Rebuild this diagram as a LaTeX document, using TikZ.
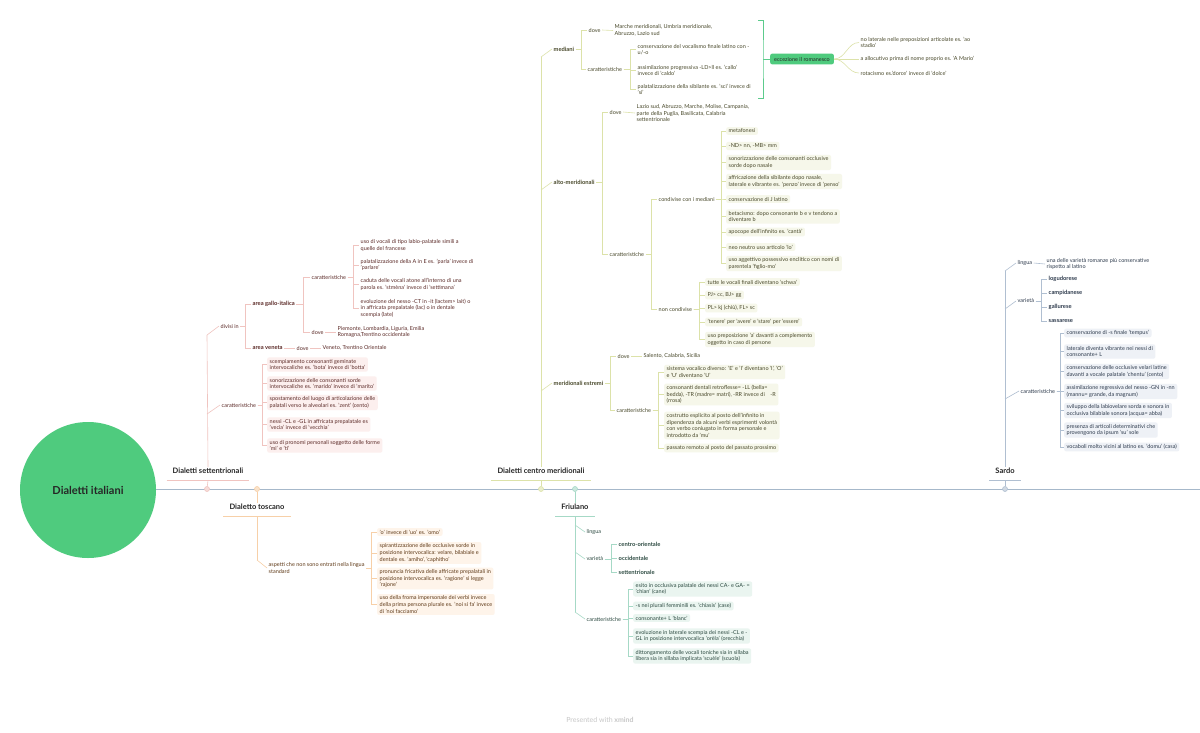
\documentclass[tikz,border=0pt]{standalone}
\usepackage{fontspec}
\setmainfont{Lato}
\usetikzlibrary{calc}

\definecolor{trunkln}{HTML}{A6B8CA}
\definecolor{rootgreen}{HTML}{4FCB7E}
\definecolor{stln}{HTML}{F0C4C0}
\definecolor{sttx}{HTML}{5C2B28}
\definecolor{stbg}{HTML}{FCEFEE}
\definecolor{toln}{HTML}{F7D0A8}
\definecolor{totx}{HTML}{5F3A18}
\definecolor{tobg}{HTML}{FEF4EA}
\definecolor{cmln}{HTML}{DCE2A9}
\definecolor{cmtx}{HTML}{48482A}
\definecolor{cmbg}{HTML}{F6F7EA}
\definecolor{frln}{HTML}{A6D9C6}
\definecolor{frtx}{HTML}{2C4A41}
\definecolor{frbg}{HTML}{EAF5F0}
\definecolor{sdln}{HTML}{B0BFD1}
\definecolor{sdtx}{HTML}{2D3A4C}
\definecolor{sdbg}{HTML}{EEF1F6}
\definecolor{sumln}{HTML}{5CCB8C}

\tikzset{
  txt/.style={anchor=west,align=left,inner sep=1.5pt,font=\fontsize{5.5}{6.6}\selectfont},
  sub/.style={txt,font=\fontsize{5.8}{6.6}\selectfont\bfseries},
  card/.style={txt,rounded corners=2pt,inner xsep=2.5pt,inner ysep=1.8pt},
  head/.style={inner xsep=6pt,inner ysep=1pt,text height=5.4pt,text depth=0pt,
    font=\fontsize{7.5}{9}\selectfont\bfseries,text=black!85},
  dot/.style={circle,inner sep=0pt,minimum size=5pt,line width=0.6pt},
  brk/.style={to path={-- ($(\tikztostart)!0.5!(\tikztostart -| \tikztotarget)$) |- (\tikztotarget)}},
  sl/.style={to path={(\tikztostart |- \tikztotarget) ++(0,#1) -- (\tikztotarget)}},
  stl/.style={draw=stln,line width=0.6pt},
  tol/.style={draw=toln,line width=0.6pt},
  cml/.style={draw=cmln,line width=0.6pt},
  frl/.style={draw=frln,line width=0.6pt},
  sdl/.style={draw=sdln,line width=0.6pt},
}

\begin{document}
\begin{tikzpicture}[x=1pt,y=-1pt]
\useasboundingbox (0,0) rectangle (1200,732);
\fill[white] (0,0) rectangle (1200,732);

% root and main line
\node[circle,fill=rootgreen,minimum size=136pt,font=\fontsize{11}{13}\selectfont\bfseries,text=black!85] (root) at (88,490) {Dialetti italiani};
\coordinate (lineEnd) at (1200,489);
\draw[draw=trunkln,line width=1pt] (root.east |- lineEnd) -- (lineEnd);

% Dialetti settentrionali
\node[dot,draw=stln,fill=stln!60] (stdot) at (207,489) {};
\node[head] (sth) at (208,471) {Dialetti settentrionali};
\coordinate (stT) at (207,335);
\node[txt,text=sttx] (std) at (219,326) {divisi in};
\node[sub,text=sttx] (stg) at (251,304) {area gallo-italica};
\node[sub,text=sttx] (stv) at (251,348) {area veneta};
\node[txt,text=sttx] (stgc) at (310,277) {caratteristiche};
\node[txt,text=sttx] (stgd) at (310,332) {dove};
\node[txt,text=sttx] (stgdv) at (336,332) {Piemonte, Lombardia, Liguria, Emilia\\Romagna,Trentino occidentale};
\node[txt,text=sttx] (stg1) at (359,245.5) {uso di vocali di tipo labio-palatale simili a\\quelle del francese};
\node[txt,text=sttx] (stg2) at (359,265) {palatalizzazione della A in E es. 'parla' invece di\\'parlare'};
\node[txt,text=sttx] (stg3) at (359,284.5) {caduta delle vocali atone all'interno di una\\parola es. 'stmèna' invece di 'settimana'};
\node[txt,text=sttx] (stg4) at (359,308) {evoluzione del nesso -CT in -it (lactem> lait) o\\in affricata prepalatale (lac) o in dentale\\scempia (late)};
\node[txt,text=sttx] (stvd) at (295,348) {dove};
\node[txt,text=sttx] (stvdv) at (321,348) {Veneto, Trentino Orientale};
\node[txt,text=sttx] (stc) at (220,405) {caratteristiche};
\node[card,fill=stbg,text=sttx] (stc1) at (267,364.5) {scempiamento consonanti geminate\\intervocaliche es. 'bota' invece di 'botta'};
\node[card,fill=stbg,text=sttx] (stc2) at (267,383.5) {sonorizzazione delle consonanti sorde\\intervocaliche es. 'marido' invece di 'marito'};
\node[card,fill=stbg,text=sttx] (stc3) at (267,402.5) {spostamento del luogo di articolazione delle\\palatali verso le alveolari es. 'zent' (cento)};
\node[card,fill=stbg,text=sttx] (stc4) at (267,424.5) {nessi -CL e -GL in affricata prepalatale es\\'vecia' invece di 'vecchia'};
\node[card,fill=stbg,text=sttx] (stc5) at (267,445.5) {uso di pronomi personali soggetto delle forme\\'mi' e 'ti'};
\draw[stl] (stdot) -- ([yshift=-5.5pt]sth.south);
\draw[stl] ([yshift=-5.5pt]sth.south west) -- ([yshift=-5.5pt]sth.south east);
\draw[stl] (sth.north) -- (stT) edge[sl=9] (std.west) edge[sl=9] (stc.west);
\draw[stl] (std.east) edge[brk] (stg.west) edge[brk] (stv.west);
\draw[stl] (stg.east) edge[brk] (stgc.west) edge[brk] (stgd.west);
\draw[stl] (stgc.east) edge[brk] (stg1.west) edge[brk] (stg2.west) edge[brk] (stg3.west) edge[brk] (stg4.west);
\draw[stl] (stgd.east) -- (stgdv.west);
\draw[stl] (stv.east) -- (stvd.west);
\draw[stl] (stvd.east) -- (stvdv.west);
\draw[stl] (stc.east) edge[brk] (stc1.west) edge[brk] (stc2.west) edge[brk] (stc3.west) edge[brk] (stc4.west) edge[brk] (stc5.west);

% Dialetto toscano
\node[dot,draw=toln,fill=toln!60] (todot) at (257,489) {};
\node[head] (toh) at (257,507) {Dialetto toscano};
\coordinate (toT) at (257,560);
\node[txt,text=totx] (toa) at (267,568) {aspetti che non sono entrati nella lingua\\standard};
\node[card,fill=tobg,text=totx] (to1) at (377,532) {'o' invece di 'uo' es. 'omo'};
\node[card,fill=tobg,text=totx] (to2) at (377,553) {spirantizzazione delle occlusive sorde in\\posizione intervocalica: velare, bilabiale e\\dentale es. 'amiho', 'caphitho'};
\node[card,fill=tobg,text=totx] (to3) at (377,578.5) {pronuncia fricativa delle affricate prepalatali in\\posizione intervocalica es. 'ragione' si legge\\'rajone'};
\node[card,fill=tobg,text=totx] (to4) at (377,604.5) {uso della froma impersonale dei verbi invece\\della prima persona plurale es. 'noi si fa' invece\\di 'noi facciamo'};
\draw[tol] (todot) -- (toh.north);
\draw[tol] ([yshift=-5.5pt]toh.south west) -- ([yshift=-5.5pt]toh.south east);
\draw[tol] ([yshift=-5.5pt]toh.south) -- (toT) edge[sl=-8] (toa.west);
\draw[tol] (toa.east) edge[brk] (to1.west) edge[brk] (to2.west) edge[brk] (to3.west) edge[brk] (to4.west);

% Dialetti centro meridionali
\node[dot,draw=cmln,fill=cmln!60] (cmdot) at (541,489) {};
\node[head] (cmh) at (541,471) {Dialetti centro meridionali};
\coordinate (cmT) at (541,57);
\node[sub,text=cmtx] (cmm) at (552,49) {mediani};
\node[txt,text=cmtx] (cmmd) at (587,30) {dove};
\node[txt,text=cmtx] (cmmdv) at (613,30.5) {Marche meridionali, Umbria meridionale,\\Abruzzo, Lazio sud};
\node[txt,text=cmtx] (cmmc) at (586,69) {caratteristiche};
\node[txt,text=cmtx] (cmm1) at (636,49.5) {conservazione del vocalismo finale latino con -\\u/-o};
\node[txt,text=cmtx] (cmm2) at (636,70.5) {assimilazione progressiva -LD>ll es. 'callo'\\invece di 'caldo'};
\node[txt,text=cmtx] (cmm3) at (636,89.5) {palatalizzazione della sibilante es. 'sci' invece di\\'si'};
\coordinate (sumT) at (758,20);
\coordinate (sumB) at (758,98);
\coordinate (sumM) at (763,59);
\node[anchor=west,fill=rootgreen,rounded corners=2pt,minimum height=10pt,inner xsep=4pt,font=\fontsize{5.5}{6.6}\selectfont,text=black!85] (cmx) at (770,59) {eccezione il romanesco};
\node[txt,text=cmtx] (cmx1) at (859,42.5) {no laterale nelle preposizioni articolate es. 'ao\\stadio'};
\node[txt,text=cmtx] (cmx2) at (859,59) {a allocutivo prima di nome proprio es. 'A Mario'};
\node[txt,text=cmtx] (cmx3) at (859,73) {rotacismo es.'dorce' invece di 'dolce'};
\node[sub,text=cmtx] (cma) at (552,182) {alto-meridionali};
\node[txt,text=cmtx] (cmad) at (608,112) {dove};
\node[txt,text=cmtx] (cmadv) at (635,113) {Lazio sud, Abruzzo, Marche, Molise, Campania,\\parte della Puglia, Basilicata, Calabria\\settentrionale};
\node[txt,text=cmtx] (cmac) at (608,254) {caratteristiche};
\node[txt,text=cmtx] (cmas) at (657,199) {condivise con i mediani};
\node[txt,text=cmtx] (cman) at (657,309) {non condivise};
\node[card,fill=cmbg,text=cmtx] (cmas1) at (726,131) {metafonesi};
\node[card,fill=cmbg,text=cmtx] (cmas2) at (726,146) {-ND> nn, -MB> mm};
\node[card,fill=cmbg,text=cmtx] (cmas3) at (726,162.5) {sonorizzazione delle consonanti occlusive\\sorde dopo nasale};
\node[card,fill=cmbg,text=cmtx] (cmas4) at (726,181.5) {affricazione della sibilante dopo nasale,\\laterale e vibrante es. 'penzo' invece di 'penso'};
\node[card,fill=cmbg,text=cmtx] (cmas5) at (726,199) {conservazione di J latino};
\node[card,fill=cmbg,text=cmtx] (cmas6) at (726,216.5) {betacismo: dopo consonante b e v tendono a\\diventare b};
\node[card,fill=cmbg,text=cmtx] (cmas7) at (726,232) {apocope dell'infinito es. 'cantà'};
\node[card,fill=cmbg,text=cmtx] (cmas8) at (726,247) {neo neutro uso articolo 'lo'};
\node[card,fill=cmbg,text=cmtx] (cmas9) at (726,263.5) {uso aggettivo possessivo enclitico con nomi di\\parentela 'figlio-mo'};
\node[card,fill=cmbg,text=cmtx] (cman1) at (705,282) {tutte le vocali finali diventano 'schwa'};
\node[card,fill=cmbg,text=cmtx] (cman2) at (705,295) {PJ> cc, BJ> gg};
\node[card,fill=cmbg,text=cmtx] (cman3) at (705,308) {PL> kj (chiù), FL> sc};
\node[card,fill=cmbg,text=cmtx] (cman4) at (705,322) {'tenere' per 'avere' e 'stare' per 'essere'};
\node[card,fill=cmbg,text=cmtx] (cman5) at (705,339.5) {uso preposizione 'a' davanti a complemento\\oggetto in caso di persone};
\node[sub,text=cmtx] (cme) at (552,383) {meridionali estremi};
\node[txt,text=cmtx] (cmed) at (616,356) {dove};
\node[txt,text=cmtx] (cmedv) at (642,356) {Salento, Calabria, Sicilia};
\node[txt,text=cmtx] (cmec) at (615,410) {caratteristiche};
\node[card,fill=cmbg,text=cmtx] (cme1) at (664,372) {sistema vocalico diverso: 'E' e 'I' diventano 'I', 'O'\\e 'U' diventano 'U'};
\node[card,fill=cmbg,text=cmtx] (cme2) at (664,394.5) {consonanti dentali retroflesse= -LL (bella=\\bedda), -TR (madre= matri), -RR invece di\enspace\enspace -R\\(rrosa)};
\node[card,fill=cmbg,text=cmtx] (cme3) at (664,425.5) {costrutto esplicito al posto dell'infinito in\\dipendenza da alcuni verbi esprimenti volontà\\con verbo coniugato in forma personale e\\introdotto da 'mu'};
\node[card,fill=cmbg,text=cmtx] (cme4) at (664,448) {passato remoto al posto del passato prossimo};
\draw[cml] (cmdot) -- ([yshift=-5.5pt]cmh.south);
\draw[cml] ([yshift=-5.5pt]cmh.south west) -- ([yshift=-5.5pt]cmh.south east);
\draw[cml] (cmh.north) -- (cmT) edge[sl=8] (cmm.west) edge[sl=8] (cma.west) edge[sl=8] (cme.west);
\draw[cml] (cmm.east) edge[brk] (cmmd.west) edge[brk] (cmmc.west);
\draw[cml] (cmmd.east) -- (cmmdv.west);
\draw[cml] (cmmc.east) edge[brk] (cmm1.west) edge[brk] (cmm2.west) edge[brk] (cmm3.west);
\draw[draw=sumln,line width=0.7pt] (sumT) -| (sumM) |- (sumB) (sumM) -- (cmx.west);
\draw[cml] (cmx.east) edge[out=0,in=180] (cmx1.west) edge (cmx2.west) edge[out=0,in=180] (cmx3.west);
\draw[cml] (cma.east) edge[brk] (cmad.west) edge[brk] (cmac.west);
\draw[cml] (cmad.east) -- (cmadv.west);
\draw[cml] (cmac.east) edge[brk] (cmas.west) edge[brk] (cman.west);
\draw[cml] (cmas.east) edge[brk] (cmas1.west) edge[brk] (cmas2.west) edge[brk] (cmas3.west) edge[brk] (cmas4.west) edge[brk] (cmas5.west) edge[brk] (cmas6.west) edge[brk] (cmas7.west) edge[brk] (cmas8.west) edge[brk] (cmas9.west);
\draw[cml] (cman.east) edge[brk] (cman1.west) edge[brk] (cman2.west) edge[brk] (cman3.west) edge[brk] (cman4.west) edge[brk] (cman5.west);
\draw[cml] (cme.east) edge[brk] (cmed.west) edge[brk] (cmec.west);
\draw[cml] (cmed.east) -- (cmedv.west);
\draw[cml] (cmec.east) edge[brk] (cme1.west) edge[brk] (cme2.west) edge[brk] (cme3.west) edge[brk] (cme4.west);

% Friulano
\node[dot,draw=frln,fill=frln!60] (frdot) at (575,489) {};
\node[head] (frh) at (575,507) {Friulano};
\coordinate (frT) at (575,612);
\node[txt,text=frtx] (frlg) at (585,532) {lingua};
\node[txt,text=frtx] (frv) at (585,559) {varietà};
\node[txt,text=frtx] (frc) at (585,619) {caratteristiche};
\node[sub,text=frtx] (frv1) at (617,544) {centro-orientale};
\node[sub,text=frtx] (frv2) at (617,558) {occidentale};
\node[sub,text=frtx] (frv3) at (617,572) {settentrionale};
\node[card,fill=frbg,text=frtx] (frc1) at (633,589) {esito in occlusiva palatale dei nessi CA- e GA- =\\'chian' (cane)};
\node[card,fill=frbg,text=frtx] (frc2) at (633,606) {-s nei plurali femminili es. 'chiasis' (case)};
\node[card,fill=frbg,text=frtx] (frc3) at (633,618) {consonante+ L 'blanc'};
\node[card,fill=frbg,text=frtx] (frc4) at (633,636) {evoluzione in laterale scempia dei nessi -CL e -\\GL in posizione intervocalica 'orèla' (orecchia)};
\node[card,fill=frbg,text=frtx] (frc5) at (633,656) {dittongamento delle vocali toniche sia in sillaba\\libera sia in sillaba implicata 'scuèle' (scuola)};
\draw[frl] (frdot) -- (frh.north);
\draw[frl] ([yshift=-5.5pt]frh.south west) -- ([yshift=-5.5pt]frh.south east);
\draw[frl] ([yshift=-5.5pt]frh.south) -- (frT) edge[sl=-7] (frlg.west) edge[sl=-7] (frv.west) edge[sl=-7] (frc.west);
\draw[frl] (frv.east) edge[brk] (frv1.west) edge[brk] (frv2.west) edge[brk] (frv3.west);
\draw[frl] (frc.east) edge[brk] (frc1.west) edge[brk] (frc2.west) edge[brk] (frc3.west) edge[brk] (frc4.west) edge[brk] (frc5.west);

% Sardo
\node[dot,draw=sdln,fill=sdln!60] (sddot) at (1005,489) {};
\node[head] (sdh) at (1005,471) {Sardo};
\coordinate (sdT) at (1005,271);
\node[txt,text=sdtx] (sdlg) at (1016,263) {lingua};
\node[txt,text=sdtx] (sdlgv) at (1045,264) {una delle varietà romanze più conservative\\rispetto al latino};
\node[txt,text=sdtx] (sdv) at (1016,301) {varietà};
\node[sub,text=sdtx] (sdv1) at (1047,279) {logudorese};
\node[sub,text=sdtx] (sdv2) at (1047,293) {campidanese};
\node[sub,text=sdtx] (sdv3) at (1047,307) {gallurese};
\node[sub,text=sdtx] (sdv4) at (1047,321) {sassarese};
\node[txt,text=sdtx] (sdc) at (1019,391) {caratteristiche};
\node[card,fill=sdbg,text=sdtx] (sdc1) at (1064,333) {conservazione di -s finale 'tempus'};
\node[card,fill=sdbg,text=sdtx] (sdc2) at (1064,351.5) {laterale diventa vibrante nei nessi di\\consonante+ L};
\node[card,fill=sdbg,text=sdtx] (sdc3) at (1064,371.5) {conservazione delle occlusive velari latine\\davanti a vocale palatale 'chentu' (cento)};
\node[card,fill=sdbg,text=sdtx] (sdc4) at (1064,391.5) {assimilazione regressiva del nesso -GN in -nn\\(mannu= grande, da magnum)};
\node[card,fill=sdbg,text=sdtx] (sdc5) at (1064,410.5) {sviluppo della labiovelare sorda e sonora in\\occlusiva bilabiale sonora (acqua= abba)};
\node[card,fill=sdbg,text=sdtx] (sdc6) at (1064,430) {presenza di articoli determinativi che\\provengono da ipsum 'su' sole};
\node[card,fill=sdbg,text=sdtx] (sdc7) at (1064,447) {vocaboli molto vicini al latino es. 'domu' (casa)};
\draw[sdl] (sddot) -- ([yshift=-5.5pt]sdh.south);
\draw[sdl] ([yshift=-5.5pt]sdh.south west) -- ([yshift=-5.5pt]sdh.south east);
\draw[sdl] (sdh.north) -- (sdT) edge[sl=8] (sdlg.west) edge[sl=8] (sdv.west) edge[sl=8] (sdc.west);
\draw[sdl] (sdlg.east) -- (sdlgv.west);
\draw[sdl] (sdv.east) edge[brk] (sdv1.west) edge[brk] (sdv2.west) edge[brk] (sdv3.west) edge[brk] (sdv4.west);
\draw[sdl] (sdc.east) edge[brk] (sdc1.west) edge[brk] (sdc2.west) edge[brk] (sdc3.west) edge[brk] (sdc4.west) edge[brk] (sdc5.west) edge[brk] (sdc6.west) edge[brk] (sdc7.west);

% footer
\node[font=\fontsize{7}{8}\selectfont,text=black!22] (credit) at (600,720) {Presented with \textbf{xmind}};
\end{tikzpicture}
\end{document}
